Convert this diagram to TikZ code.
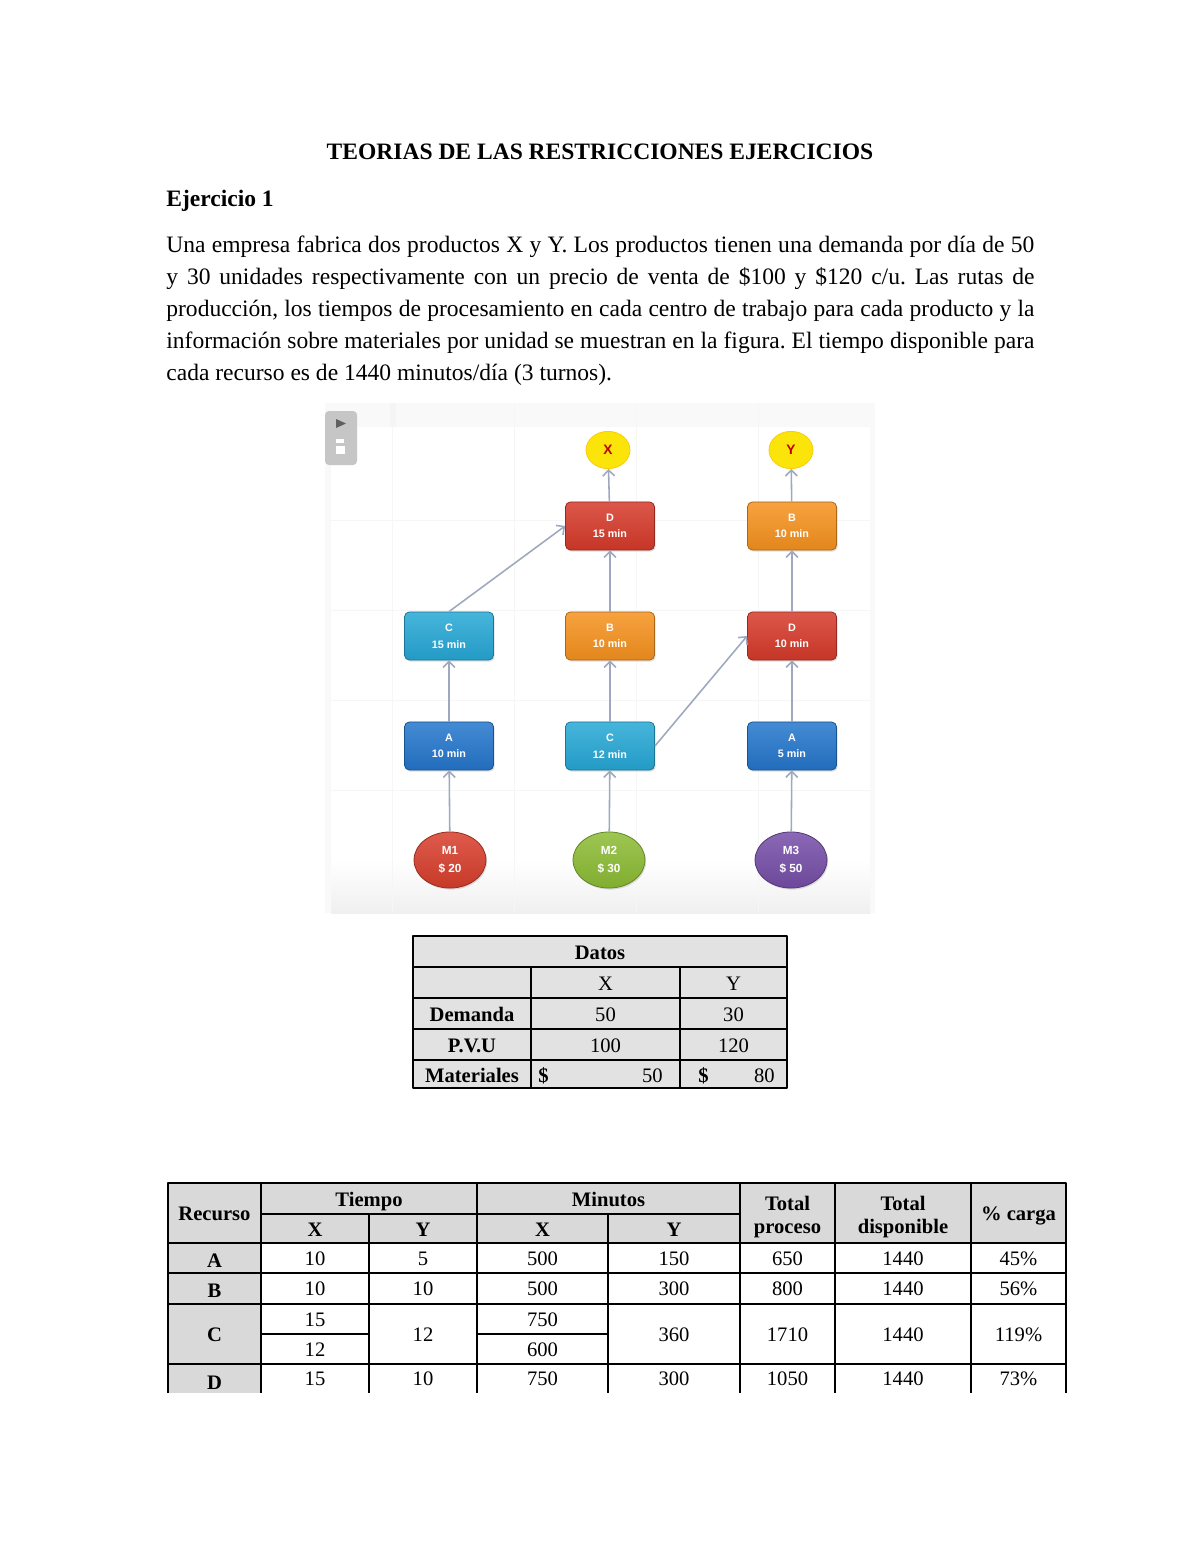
\documentclass[tikz,border=0pt]{standalone}
\usepackage{fontspec}
\setmainfont{Liberation Serif}
\setsansfont{Liberation Sans}
\usetikzlibrary{arrows.meta,shapes.geometric,shadows}

% colores del diagrama
\definecolor{rojoD}{RGB}{214,58,42}
\definecolor{naranjaB}{RGB}{246,146,30}
\definecolor{celesteC}{RGB}{38,168,214}
\definecolor{azulA}{RGB}{36,118,204}
\definecolor{amarilloP}{RGB}{250,228,10}
\definecolor{rojoM}{RGB}{216,62,44}
\definecolor{verdeM}{RGB}{140,188,52}
\definecolor{moradoM}{RGB}{118,78,168}
\definecolor{flechaC}{RGB}{158,168,190}
% colores de las tablas
\definecolor{grisT}{RGB}{217,217,217}
\definecolor{grisD}{RGB}{226,226,226}

\frenchspacing

\begin{document}
\begin{tikzpicture}[
        x=0.51pt, y=-0.51pt,   % 1 unidad = 1 px de la hoja
        line join=round,
        caja/.style={rectangle, rounded corners=2.5pt, draw=#1!70!black,
            top color=#1!85!white, bottom color=#1!92!black,
            minimum width=45.4pt, minimum height=24.5pt, inner sep=0pt,
            text=white, align=center,
            font=\sffamily\bfseries\fontsize{5.5}{8.5}\selectfont,
            drop shadow={opacity=0.25, shadow xshift=0.6pt, shadow yshift=-0.8pt}},
        mat/.style={ellipse, draw=#1!70!black,
            top color=#1!85!white, bottom color=#1!92!black,
            minimum width=36.7pt, minimum height=28.6pt, inner sep=0pt,
            text=white, align=center,
            font=\sffamily\bfseries\fontsize{6}{9}\selectfont,
            drop shadow={opacity=0.25, shadow xshift=0.6pt, shadow yshift=-0.8pt}},
        prod/.style={ellipse, draw=amarilloP!75!orange, fill=amarilloP,
            minimum width=22.4pt, minimum height=19pt, inner sep=0pt,
            text=red!75!black, font=\sffamily\bfseries\fontsize{7}{8}\selectfont},
        flecha/.style={draw=flechaC, line width=0.8pt,
            -{Straight Barb[length=3pt,width=6pt]}},
        celda/.style={inner sep=0pt, text height=7.2pt, text depth=0pt,
            font=\fontsize{10.5}{12}\selectfont},
        cabeza/.style={celda, font=\bfseries\fontsize{10.5}{12}\selectfont},
        raya/.style={line width=1.1pt},
    ]

    \useasboundingbox (0,0) rectangle (1200,1553);
    \fill[white] (0,0) rectangle (1200,1553);

    % ---- Texto ----
    \node[anchor=base, inner sep=0pt, font=\bfseries\fontsize{12}{14.4}\selectfont]
        (titulo) at (600,160) {TEORIAS DE LAS RESTRICCIONES EJERCICIOS};
    \node[anchor=base west, inner sep=0pt, font=\bfseries\fontsize{12}{14.4}\selectfont]
        (ejercicio) at (166,207) {Ejercicio 1};
    \node[anchor=base west, inner sep=0pt, text width=442.7pt, align=justify,
        font=\fontsize{12}{16.2}\selectfont]
        (enunciado) at (166,253) {\hyphenpenalty=10000 \tolerance=9999 Una empresa fabrica dos productos X y Y. Los productos tienen una demanda por día de 50\linebreak
        y 30 unidades respectivamente con un precio de venta de \$100 y \$120 c/u. Las rutas de\linebreak
        producción, los tiempos de procesamiento en cada centro de trabajo para cada producto y la\linebreak
        información sobre materiales por unidad se muestran en la figura. El tiempo disponible para\linebreak
        cada recurso es de 1440 minutos/día (3 turnos).};

    % ---- Figura (captura) ----
    \fill[gray!5] (325,403) rectangle (875,913);
    \fill[white] (331,427) rectangle (870,880);
    \shade[top color=white, bottom color=gray!12] (331,860) rectangle (870,913);
    \foreach \x in {392,514,636,758} \draw[gray!7] (\x,403) -- (\x,913);
    \foreach \y in {520,610,700,790} \draw[gray!7] (331,\y) -- (870,\y);
    \fill[gray!8] (390,403) rectangle (396,427);
    % panel gris
    \fill[gray!45, rounded corners=2pt] (325,411) rectangle (357,465);
    \fill[gray!75!black] (336,419) -- (346,423.5) -- (336,428) -- cycle;
    \fill[white] (336,439) rectangle (344,443);
    \fill[white] (336,446) rectangle (345,454);

    % productos
    \node[prod] (prodX) at (608,450) {X};
    \node[prod] (prodY) at (791,450) {Y};
    % fila superior
    \node[caja=rojoD] (d1) at (610,526) {D\\15 min};
    \node[caja=naranjaB] (b2) at (792,526) {B\\10 min};
    % fila media
    \node[caja=celesteC] (c1) at (449,636) {C\\15 min};
    \node[caja=naranjaB] (b1) at (610,636) {B\\10 min};
    \node[caja=rojoD] (d2) at (792,636) {D\\10 min};
    % fila inferior
    \node[caja=azulA] (a1) at (449,746) {A\\10 min};
    \node[caja=celesteC] (c2) at (610,746) {C\\12 min};
    \node[caja=azulA] (a2) at (792,746) {A\\5 min};
    % materiales
    \node[mat=rojoM] (m1) at (450,860) {M1\\\$ 20};
    \node[mat=verdeM] (m2) at (609,860) {M2\\\$ 30};
    \node[mat=moradoM] (m3) at (791,860) {M3\\\$ 50};

    % rutas
    \draw[flecha] (m1) -- (a1);
    \draw[flecha] (a1) -- (c1);
    \draw[flecha] (c1.north) -- (d1.west);
    \draw[flecha] (m2) -- (c2);
    \draw[flecha] (c2) -- (b1);
    \draw[flecha] (b1) -- (d1);
    \draw[flecha] (d1) -- (prodX);
    \draw[flecha] (m3) -- (a2);
    \draw[flecha] (a2) -- (d2);
    \draw[flecha] (c2.east) -- (d2.west);
    \draw[flecha] (d2) -- (b2);
    \draw[flecha] (b2) -- (prodY);

    % ---- Tabla Datos ----
    \fill[grisD] (413,936) rectangle (787,1088);
    \draw[raya] (413,936) rectangle (787,1088);
    \foreach \y in {967,998,1029,1060} \draw[raya] (413,\y) -- (787,\y);
    \draw[raya] (531,967) -- (531,1088) (680,967) -- (680,1088);
    \node[cabeza] (datos) at (600,952.5) {Datos};
    \node[celda] (dX) at (605.5,983.5) {X};
    \node[celda] (dY) at (733.5,983.5) {Y};
    \node[cabeza] (demanda) at (472,1014.5) {Demanda};
    \node[celda] (demX) at (605.5,1014.5) {50};
    \node[celda] (demY) at (733.5,1014.5) {30};
    \node[cabeza] (pvu) at (472,1045.5) {P.V.U};
    \node[celda] (pvuX) at (605.5,1045.5) {100};
    \node[celda] (pvuY) at (733.5,1045.5) {120};
    \node[cabeza] (materiales) at (472,1075) {Materiales};
    \node[cabeza, anchor=west] (matXs) at (538,1075) {\$};
    \node[celda, anchor=east] (matX) at (663,1075) {50};
    \node[cabeza, anchor=west] (matYs) at (698,1075) {\$};
    \node[celda, anchor=east] (matY) at (775,1075) {80};

    % ---- Tabla de recursos ----
    \fill[grisT] (168,1183) rectangle (1066,1243);
    \fill[grisT] (168,1243) rectangle (261,1393);
    \draw[raya] (168,1393) -- (168,1183) -- (1066,1183) -- (1066,1393);
    \draw[raya] (261,1214) -- (740,1214);
    \foreach \y in {1243,1273,1304,1364} \draw[raya] (168,\y) -- (1066,\y);
    \draw[raya] (261,1334) -- (369,1334) (477,1334) -- (608,1334);
    \foreach \x in {261,477,740,835,971} \draw[raya] (\x,1183) -- (\x,1393);
    \foreach \x in {369,608} \draw[raya] (\x,1214) -- (\x,1393);

    % encabezados
    \node[cabeza] (recurso) at (214.5,1213) {Recurso};
    \node[cabeza] (tiempo) at (369,1199.5) {Tiempo};
    \node[cabeza] (minutos) at (608.5,1199.5) {Minutos};
    \node[cabeza] (tX) at (315,1229.5) {X};
    \node[cabeza] (tY) at (423,1229.5) {Y};
    \node[cabeza] (mX) at (542.5,1229.5) {X};
    \node[cabeza] (mY) at (674,1229.5) {Y};
    \node[align=center, inner sep=0pt, font=\bfseries\fontsize{10.5}{11.7}\selectfont]
        (totproc) at (787.5,1217) {Total\\proceso};
    \node[align=center, inner sep=0pt, font=\bfseries\fontsize{10.5}{11.7}\selectfont]
        (totdisp) at (903,1217) {Total\\disponible};
    \node[cabeza] (carga) at (1018.5,1213) {\%~carga};

    % fila A
    \node[cabeza] (rA) at (214.5,1260) {A};
    \node[celda] (A1) at (315,1258) {10};
    \node[celda] (A2) at (423,1258) {5};
    \node[celda] (A3) at (542.5,1258) {500};
    \node[celda] (A4) at (674,1258) {150};
    \node[celda] (A5) at (787.5,1258) {650};
    \node[celda] (A6) at (903,1258) {1440};
    \node[celda] (A7) at (1018.5,1258) {45\%};
    % fila B
    \node[cabeza] (rB) at (214.5,1290.5) {B};
    \node[celda] (B1) at (315,1288.5) {10};
    \node[celda] (B2) at (423,1288.5) {10};
    \node[celda] (B3) at (542.5,1288.5) {500};
    \node[celda] (B4) at (674,1288.5) {300};
    \node[celda] (B5) at (787.5,1288.5) {800};
    \node[celda] (B6) at (903,1288.5) {1440};
    \node[celda] (B7) at (1018.5,1288.5) {56\%};
    % fila C
    \node[cabeza] (rC) at (214.5,1334) {C};
    \node[celda] (C1a) at (315,1319) {15};
    \node[celda] (C1b) at (315,1349) {12};
    \node[celda] (C2) at (423,1334) {12};
    \node[celda] (C3a) at (542.5,1319) {750};
    \node[celda] (C3b) at (542.5,1349) {600};
    \node[celda] (C4) at (674,1334) {360};
    \node[celda] (C5) at (787.5,1334) {1710};
    \node[celda] (C6) at (903,1334) {1440};
    \node[celda] (C7) at (1018.5,1334) {119\%};
    % fila D
    \node[cabeza] (rD) at (214.5,1382) {D};
    \node[celda] (D1) at (315,1378.5) {15};
    \node[celda] (D2) at (423,1378.5) {10};
    \node[celda] (D3) at (542.5,1378.5) {750};
    \node[celda] (D4) at (674,1378.5) {300};
    \node[celda] (D5) at (787.5,1378.5) {1050};
    \node[celda] (D6) at (903,1378.5) {1440};
    \node[celda] (D7) at (1018.5,1378.5) {73\%};

\end{tikzpicture}
\end{document}
